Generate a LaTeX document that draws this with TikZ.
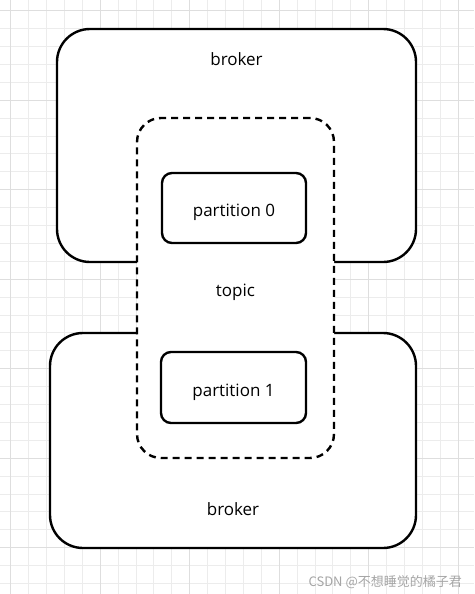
\documentclass[tikz,border=0pt]{standalone}
\usepackage{fontspec}
\setmainfont{Open Sans}
\newfontfamily\cjkfont{Noto Sans CJK SC}
\usetikzlibrary{positioning}
\definecolor{gridminor}{RGB}{236,236,236}
\definecolor{gridmajor}{RGB}{222,222,222}
\definecolor{marktext}{RGB}{165,165,165}
\tikzset{
	brokerbox/.style={draw, fill=white, rounded corners=33pt},
	topicbox/.style={draw, fill=white, dash pattern=on 7pt off 5pt, rounded corners=24pt, font=\fontsize{17}{20}\selectfont, text height=22pt},
	partbox/.style={draw, fill=white, rounded corners=10pt, font=\fontsize{17}{20}\selectfont, text height=22pt},
	lbl/.style={font=\fontsize{17}{20}\selectfont, inner sep=0pt}
}
\begin{document}
\begin{tikzpicture}[x=1pt, y=-1pt, line width=2.4pt]
	\useasboundingbox (0,0) rectangle (474,594);
	\fill[white] (0,0) rectangle (474,594);
	%%%	Griglia
	\foreach \i in {0,...,25}
	\draw[gridminor, line width=0.8pt] ({10.6+17.9*\i},0) -- ({10.6+17.9*\i},594);
	\foreach \j in {0,...,32}
	\draw[gridminor, line width=0.8pt] (0,{10.6+17.9*\j}) -- (474,{10.6+17.9*\j});
	\foreach \i in {0,5,...,25}
	\draw[gridmajor, line width=0.8pt] ({10.6+17.9*\i},0) -- ({10.6+17.9*\i},594);
	\foreach \j in {0,5,...,30}
	\draw[gridmajor, line width=0.8pt] (0,{10.6+17.9*\j}) -- (474,{10.6+17.9*\j});
	%%%	Disegno
	\node[brokerbox, minimum width=359pt, minimum height=233pt] (brokerA) at (236.5,145.5) {};
	\node[brokerbox, minimum width=366pt, minimum height=215pt] (brokerB) at (233,440.5) {};
	\node[lbl, below=31pt of brokerA.north, anchor=center] (brokerAlbl) {broker};
	\node[lbl, above=40pt of brokerB.south, anchor=center] (brokerBlbl) {broker};
	\node[topicbox, minimum width=197pt, minimum height=340pt] (topic) at (235.5,288) {topic};
	\node[partbox, minimum width=144pt, minimum height=70pt] (part0) at (234,208) {partition 0};
	\node[partbox, minimum width=145pt, minimum height=71pt] (part1) at (233.5,387.5) {partition 1};
	%%%	Firma
	\node[anchor=east, inner sep=0pt, text=marktext, font=\cjkfont\fontsize{13}{16}\selectfont] (mark) at (463,582) {CSDN @不想睡觉的橘子君};
\end{tikzpicture}
\end{document}
